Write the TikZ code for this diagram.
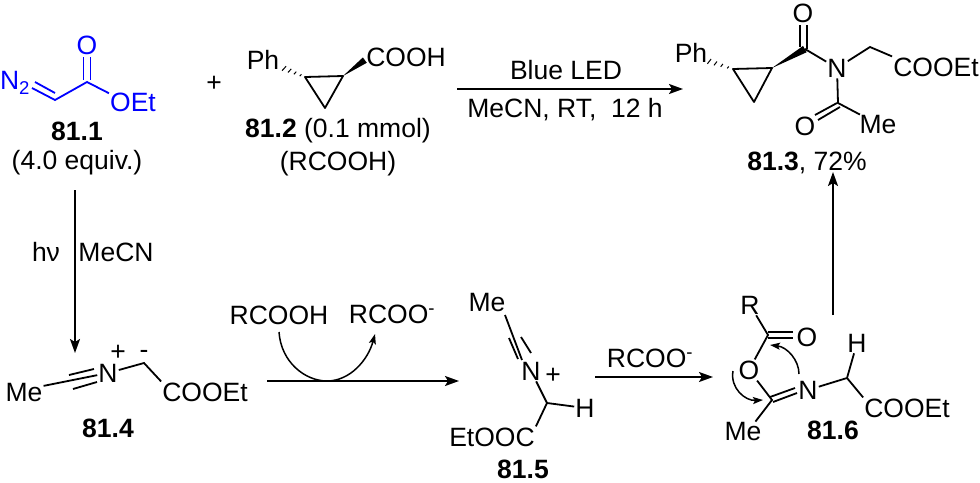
\documentclass[tikz,border=0pt]{standalone}
\usepackage{fontspec}
\setmainfont{Liberation Sans}
\usetikzlibrary{arrows.meta,calc}
\tikzset{
    atom/.style={inner sep=1pt, font=\fontsize{26.5}{30}\selectfont},
    tag/.style={inner sep=0pt, font=\fontsize{26.5}{30}\selectfont\bfseries},
    txt/.style={inner sep=0pt, font=\fontsize{26.5}{30}\selectfont},
    bond/.style={line width=1.8pt},
    rxn/.style={line width=1.8pt, -{Stealth[length=14pt,width=10pt,inset=3pt]}},
    push/.style={line width=1.5pt, -{Stealth[length=10pt,width=7pt,inset=2pt]}},
}
\begin{document}
\begin{tikzpicture}[x=1pt, y=-1pt]
    \useasboundingbox (0,0) rectangle (980,482);
    % Draw 81.1
    \node [atom, blue] (na) at (15,83) {N\textsubscript{2}};
    \node [atom, blue] (oa) at (87,45) {O};
    \node [atom, blue] (oeta) at (133,102) {OEt};
    \coordinate (cha) at (55,100);
    \coordinate (coa) at (87,82);
    \coordinate (na1) at (32,88);
    \coordinate (na2) at (35,82);
    \coordinate (cha2) at (55,93);
    \coordinate (oa1) at (83.5,57);
    \coordinate (oa2) at (83.5,80);
    \coordinate (oa3) at (90.5,57);
    \coordinate (oa4) at (90.5,80);
    \draw [bond, blue] (na1) -- (cha) -- (coa) -- (oeta.160);
    \draw [bond, blue] (na2) -- (cha2);
    \draw [bond, blue] (oa1) -- (oa2);
    \draw [bond, blue] (oa3) -- (oa4);
    \node [tag] (lba) at (77,131) {81.1};
    \node [txt] (lea) at (77,163) {(4.0 equiv.)};
    \node [txt] (pl) at (214,84) {+};

    % Draw 81.2
    \node [atom] (pha) at (263,60) {Ph};
    \node [atom] (cooh) at (406,57) {COOH};
    \coordinate (rla) at (305,77);
    \coordinate (rra) at (343,76);
    \coordinate (rba) at (325,108);
    \coordinate (wa) at (365,60);
    \coordinate (ha) at (283,68);
    \draw [bond, line join=round] (rla) -- (rra) -- (rba) -- cycle;
    \fill (rra) -- ($(rra)!1!7:(wa)$) -- ($(rra)!1!-7:(wa)$) -- cycle;
    \foreach \t/\w in {.2/1.2, .45/1.8, .7/2.4, .95/3}
        \draw [line width=1pt] ($(rla)!\t!(ha)!\w pt!70:(ha)$) -- ($(rla)!\t!(ha)!\w pt!-110:(ha)$);
    \node [txt] (lbb) at (338,131) {\textbf{81.2} (0.1 mmol)};
    \node [txt] (lcb) at (338,164) {(RCOOH)};

    % Top arrow
    \coordinate (tas) at (457,89);
    \coordinate (tae) at (683,89);
    \draw [rxn] (tas) -- (tae);
    \node [txt] (blue) at (566,70) {Blue LED};
    \node [txt] (cond) at (565,110) {MeCN, RT,\ \ 12 h};

    % Draw 81.3
    \node [atom] (phc) at (691,53) {Ph};
    \node [atom] (oc) at (803,13) {O};
    \node [atom] (nc) at (837,68) {N};
    \node [atom] (coetc) at (936,67) {COOEt};
    \node [atom] (od) at (805,126) {O};
    \node [atom] (mec) at (878,125) {Me};
    \coordinate (rlc) at (733,69);
    \coordinate (rrc) at (772,68);
    \coordinate (rbc) at (754,102);
    \coordinate (cc) at (805,49);
    \coordinate (hc) at (708,61);
    \coordinate (chc) at (870,47);
    \coordinate (acc) at (838,103);
    \coordinate (oc1) at (800,25);
    \coordinate (oc2) at (800,47);
    \coordinate (oc3) at (807,25);
    \coordinate (oc4) at (807,49);
    \coordinate (od1) at (815,115);
    \coordinate (od2) at (837,103);
    \coordinate (od3) at (818,120);
    \coordinate (od4) at (840,107);
    \draw [bond, line join=round] (rlc) -- (rrc) -- (rbc) -- cycle;
    \fill (rrc) -- ($(rrc)!1!5.5:(cc)$) -- ($(rrc)!1!-5.5:(cc)$) -- cycle;
    \foreach \t/\w in {.2/1.2, .45/1.8, .7/2.4, .95/3}
        \draw [line width=1pt] ($(rlc)!\t!(hc)!\w pt!70:(hc)$) -- ($(rlc)!\t!(hc)!\w pt!-110:(hc)$);
    \draw [bond] (oc1) -- (oc2);
    \draw [bond] (oc3) -- (oc4);
    \draw [bond] (cc) -- (nc) -- (chc) -- (coetc.north west);
    \draw [bond] (nc) -- (acc) -- (mec.150);
    \draw [bond] (od1) -- (od2);
    \draw [bond] (od3) -- (od4);
    \node [txt] (lbc) at (807,163) {\textbf{81.3}, 72\%};

    % Left arrow
    \coordinate (las) at (75,190);
    \coordinate (lae) at (75,353);
    \draw [rxn] (las) -- (lae);
    \node [txt] (hn) at (46,252) {hν};
    \node [txt] (mcn) at (116,252) {MeCN};

    % Draw 81.4
    \node [atom] (mee) at (24,393) {Me};
    \node [atom] (ne) at (108,373) {N};
    \node [atom] (coete) at (205,392) {COOEt};
    \node [txt] (pe) at (118,353) {+};
    \node [txt] (me) at (144,354) {-};
    \coordinate (che) at (144,363);
    \coordinate (te1) at (69,375);
    \coordinate (te2) at (94,369);
    \coordinate (te3) at (73,389);
    \coordinate (te4) at (97,382);
    \draw [bond] (mee.20) -- (ne);
    \draw [bond] (te1) -- (te2);
    \draw [bond] (te3) -- (te4);
    \draw [bond] (ne) -- (che) -- (coete.north west);
    \node [tag] (lbe) at (108,428) {81.4};

    % Middle arrow with acid and base
    \node [txt] (ra) at (279,315) {RCOOH};
    \node [txt] (rb) at (392,314) {RCOO\textsuperscript{-}};
    \coordinate (mas) at (267,381);
    \coordinate (mae) at (459,381);
    \coordinate (cs) at (279,332);
    \coordinate (cb) at (327,381);
    \coordinate (ce) at (375,334);
    \draw [rxn] (mas) -- (mae);
    \draw [push] (cs) .. controls (281,362) and (305,381) .. (cb) .. controls (350,381) and (368,360) .. (ce);

    % Draw 81.5
    \node [atom] (mef) at (487,303) {Me};
    \node [atom] (nf) at (531,371) {N};
    \node [txt] (pf) at (553,376) {+};
    \node [atom] (hf) at (585,408) {H};
    \node [atom] (coetf) at (492,437) {EtOOC};
    \coordinate (chf) at (547,403);
    \coordinate (tf1) at (509,338);
    \coordinate (tf2) at (518,359);
    \coordinate (tf3) at (521,337);
    \coordinate (tf4) at (531,353);
    \coordinate (tf5) at (505,315);
    \coordinate (tf6) at (522,360);
    \draw [bond] (tf5) -- (tf6);
    \draw [bond] (tf1) -- (tf2);
    \draw [bond] (tf3) -- (tf4);
    \draw [bond] (nf) -- (chf) -- (hf);
    \draw [bond] (chf) -- (coetf.north east);
    \node [tag] (lbf) at (523,469) {81.5};

    % Right arrow
    \coordinate (ras) at (595,377);
    \coordinate (rae) at (713,377);
    \draw [rxn] (ras) -- (rae);
    \node [txt] (rc) at (650,358) {RCOO\textsuperscript{-}};

    % Draw 81.6
    \node [atom] (rg) at (750,305) {R};
    \node [atom] (og) at (807,337) {O};
    \node [atom] (oh) at (749,370) {O};
    \node [atom] (ng) at (808,390) {N};
    \node [atom] (hg) at (857,343) {H};
    \node [atom] (coetg) at (907,408) {COOEt};
    \node [atom] (meg) at (743,432) {Me};
    \coordinate (cg) at (768,335);
    \coordinate (ch) at (772,400);
    \coordinate (chg) at (847,378);
    \coordinate (og1) at (768,332);
    \coordinate (og2) at (793,332);
    \coordinate (og3) at (768,338);
    \coordinate (og4) at (793,338);
    \coordinate (nh1) at (770,397);
    \coordinate (nh2) at (795,388);
    \coordinate (nh3) at (773,402);
    \coordinate (nh4) at (797,393);
    \draw [bond] (rg) -- (cg) -- (oh) -- (ch) -- (meg.40);
    \draw [bond] (og1) -- (og2);
    \draw [bond] (og3) -- (og4);
    \draw [bond] (nh1) -- (nh2);
    \draw [bond] (nh3) -- (nh4);
    \draw [bond] (ng) -- (chg) -- (hg);
    \draw [bond] (chg) -- (coetg.north west);
    \node [tag] (lbg) at (833,430) {81.6};
    \coordinate (pa1) at (799,374);
    \coordinate (pa2) at (770,345);
    \coordinate (pb1) at (733,371);
    \coordinate (pb2) at (763,400);
    \draw [push] (pa1) .. controls (799,360) and (787,347) .. (pa2);
    \draw [push] (pb1) .. controls (730,388) and (745,401) .. (pb2);

    % Last arrow
    \coordinate (uas) at (833,315);
    \coordinate (uae) at (833,172);
    \draw [rxn] (uas) -- (uae);
\end{tikzpicture}
\end{document}
